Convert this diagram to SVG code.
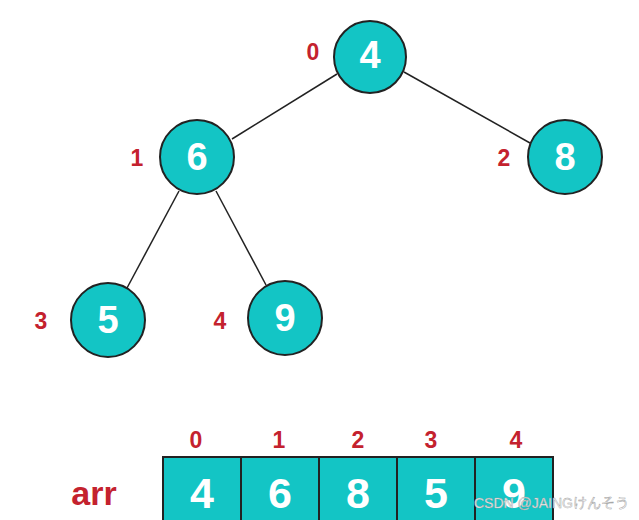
<svg xmlns="http://www.w3.org/2000/svg" width="639" height="520" viewBox="0 0 639 520">
<style>
.n{fill:#13c5c5;stroke:#222;stroke-width:2}
.v{font-family:"Liberation Sans",Arial,sans-serif;font-weight:bold;font-size:38px;fill:#fff;text-anchor:middle}
.a{font-family:"Liberation Sans",Arial,sans-serif;font-weight:bold;font-size:43px;fill:#fff;text-anchor:middle}
.i{font-family:"Liberation Sans",Arial,sans-serif;font-weight:bold;font-size:23px;fill:#c4222e;text-anchor:middle}
.e{stroke:#222;stroke-width:1.5;fill:none}
.b{fill:#13c5c5;stroke:#222;stroke-width:2}
</style>
<rect width="639" height="520" fill="#fff"/>
<g id="connectors">
<line class="e" x1="337" y1="74" x2="232" y2="139"/>
<line class="e" x1="404" y1="72" x2="530" y2="143"/>
<line class="e" x1="179" y1="191" x2="127" y2="288"/>
<line class="e" x1="216" y1="191" x2="266" y2="285"/>
</g>
<g id="node0"><circle class="n" cx="370" cy="57" r="36"/><text class="v" x="370" y="68">4</text><text class="i" x="313" y="60">0</text></g>
<g id="node1"><circle class="n" cx="197" cy="157" r="37"/><text class="v" x="197" y="170">6</text><text class="i" x="137" y="166">1</text></g>
<g id="node2"><circle class="n" cx="565" cy="157" r="37"/><text class="v" x="565" y="170">8</text><text class="i" x="504" y="166">2</text></g>
<g id="node3"><circle class="n" cx="108" cy="320" r="37"/><text class="v" x="108" y="333">5</text><text class="i" x="41" y="329">3</text></g>
<g id="node4"><circle class="n" cx="285" cy="318" r="37"/><text class="v" x="285" y="331">9</text><text class="i" x="220" y="329">4</text></g>
<g id="array">
<text x="94" y="505" font-family="Liberation Sans,Arial,sans-serif" font-weight="bold" font-size="34" fill="#c4222e" text-anchor="middle">arr</text>
<rect class="b" x="163" y="457" width="78" height="70"/>
<rect class="b" x="241" y="457" width="78" height="70"/>
<rect class="b" x="319" y="457" width="78" height="70"/>
<rect class="b" x="397" y="457" width="78" height="70"/>
<rect class="b" x="475" y="457" width="78" height="70"/>
<text class="a" x="202" y="508">4</text>
<text class="a" x="280" y="508">6</text>
<text class="a" x="358" y="508">8</text>
<text class="a" x="436" y="508">5</text>
<text class="a" x="514" y="508">9</text>
<text class="i" x="196" y="448">0</text>
<text class="i" x="279" y="448">1</text>
<text class="i" x="358" y="448">2</text>
<text class="i" x="431" y="448">3</text>
<text class="i" x="516" y="448">4</text>
</g>
<text x="474" y="508" font-family="Liberation Sans,'Noto Sans CJK JP',sans-serif" font-size="14" fill="#f4f4f4" stroke="#999" stroke-width="0.4">CSDN @JAINGけんそう</text>
</svg>
